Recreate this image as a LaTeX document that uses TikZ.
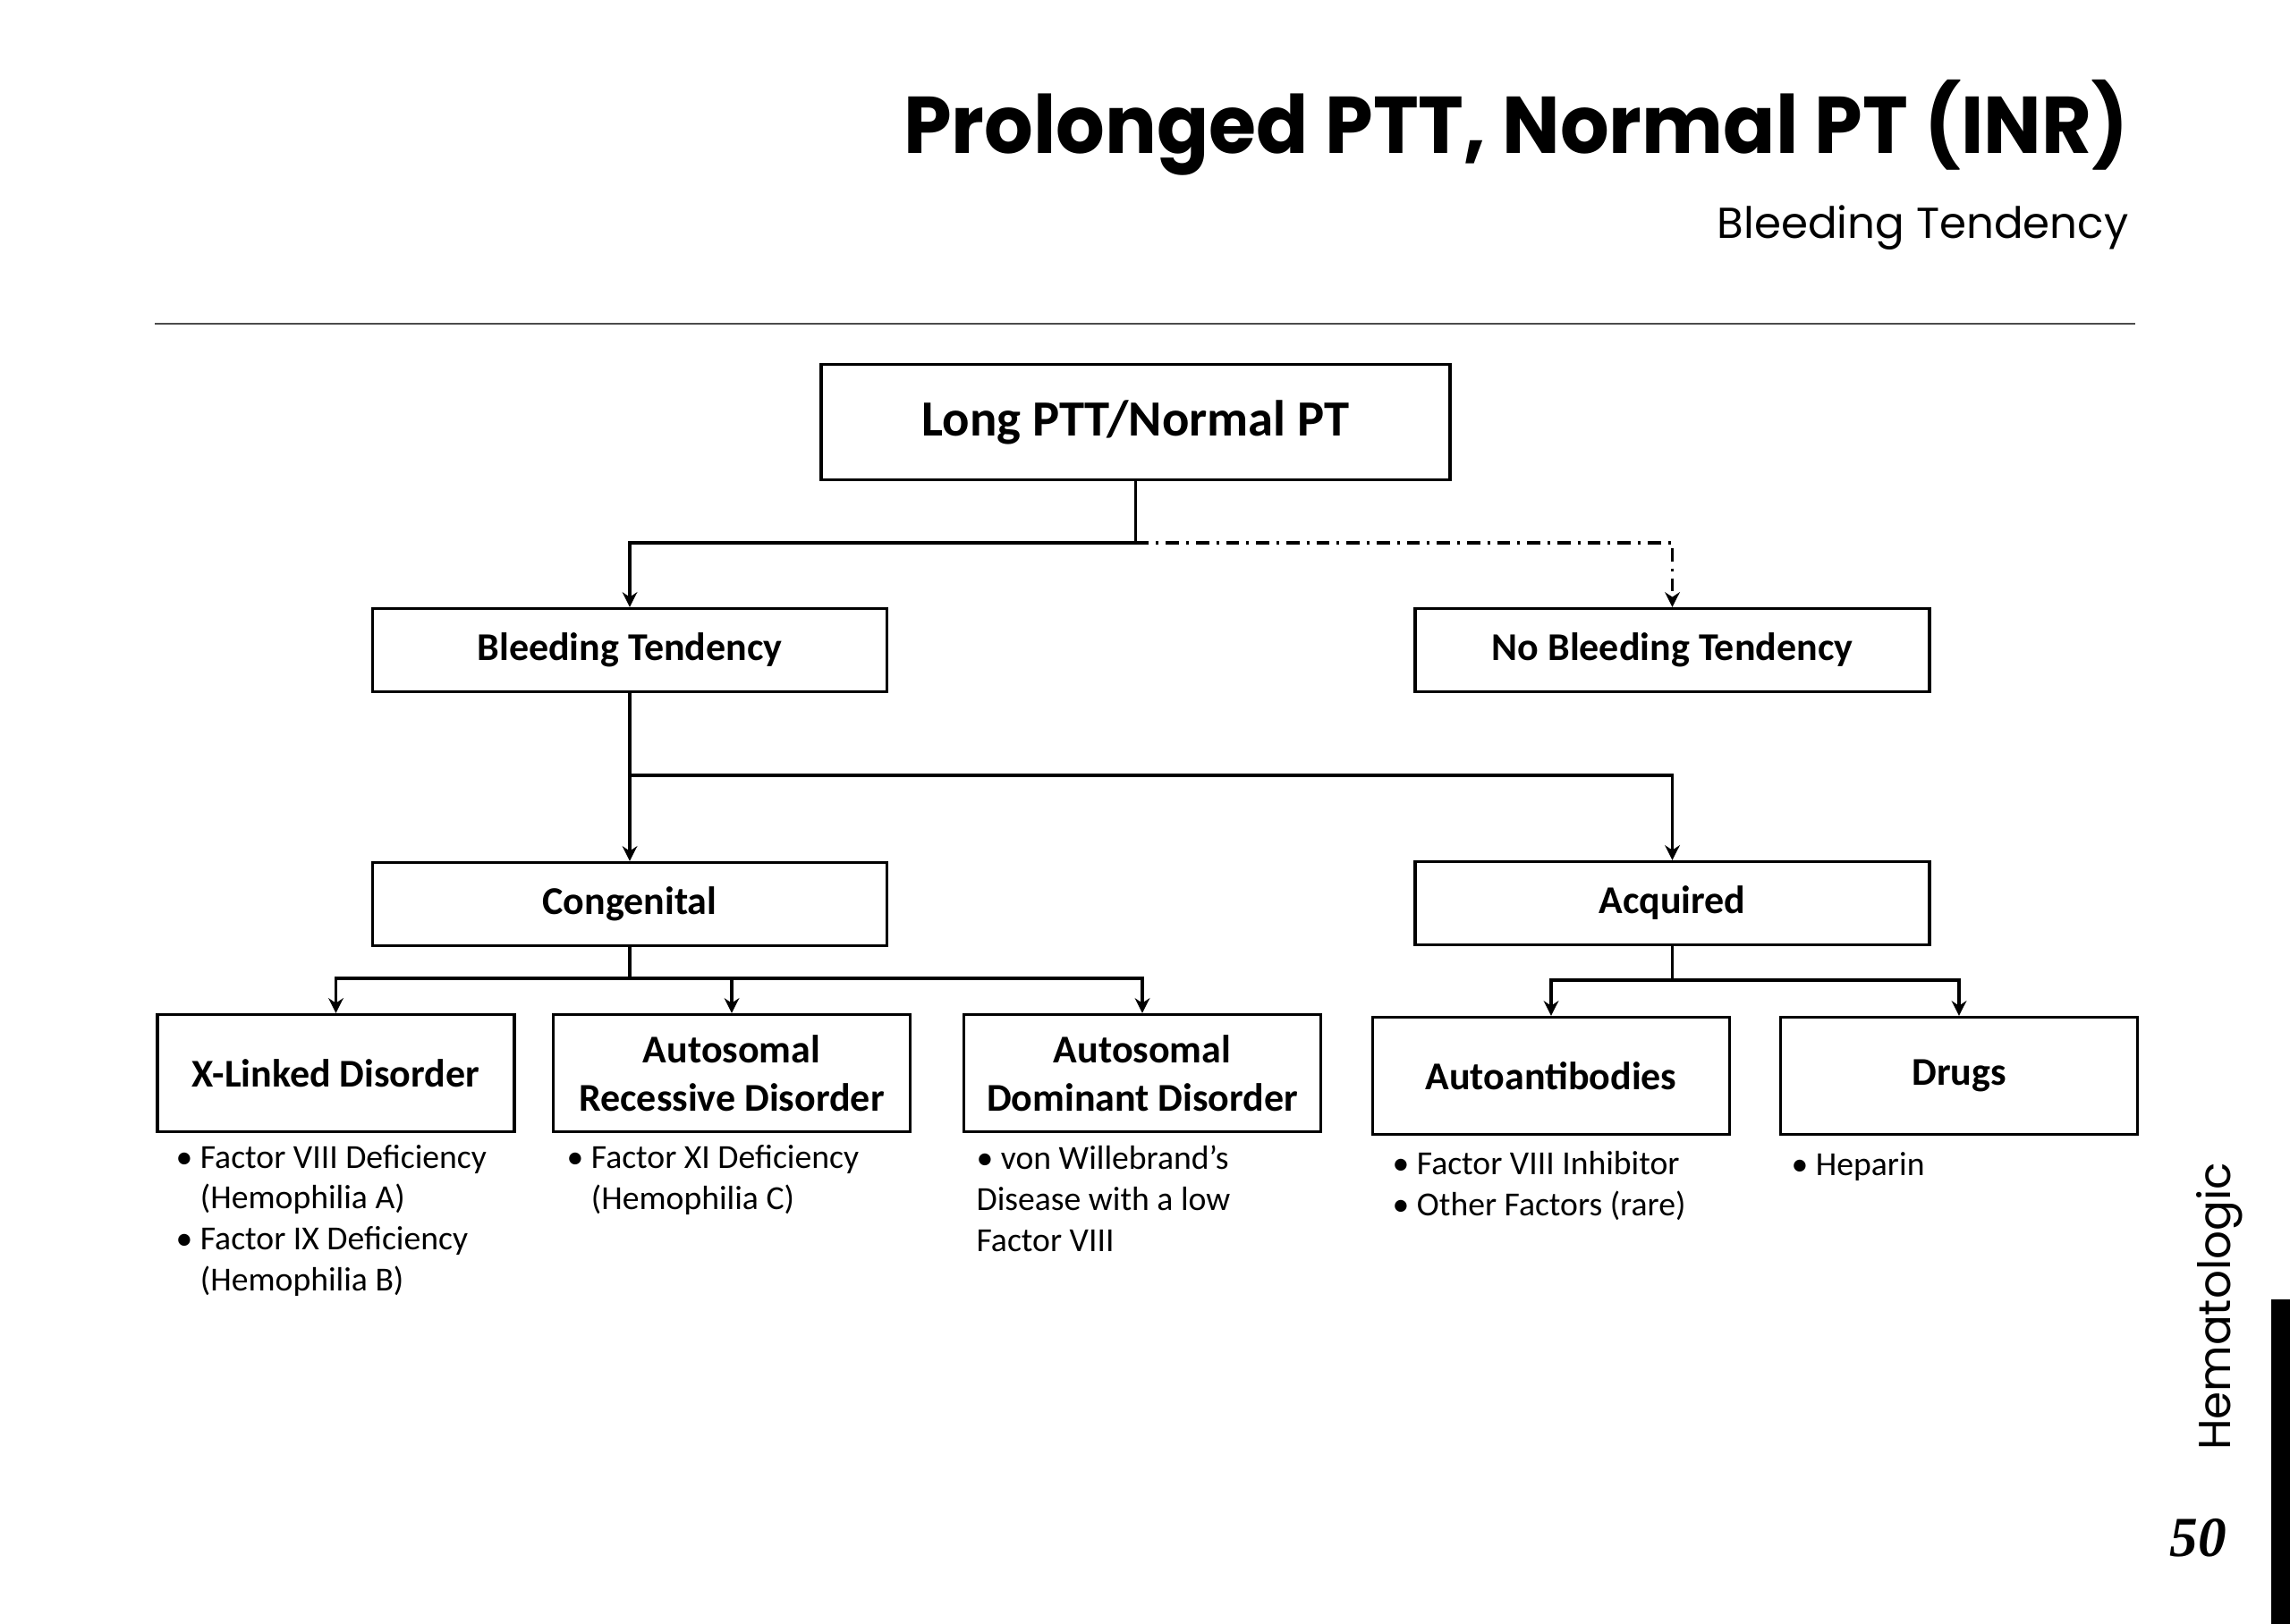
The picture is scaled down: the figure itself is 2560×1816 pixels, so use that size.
\documentclass[tikz,border=0pt]{standalone}
\usepackage{fontspec}
\setmainfont{Carlito}
\newfontfamily\popfont{Poppins}
\newfontfamily\numfont{Liberation Serif}
\usetikzlibrary{arrows.meta}
\begin{document}
\begin{tikzpicture}[x=0.3pt,y=-0.3pt,
  box/.style={draw, line width=1pt, inner sep=0pt, align=center,
    font=\bfseries\fontsize{13.2}{16.2}\selectfont},
  conn/.style={line width=1pt},
  arr/.style={conn, -{Stealth[length=5pt,width=5pt]}},
  ddash/.style={dash pattern=on 4.4pt off 2.4pt on 0.9pt off 2.4pt},
  bul/.style={anchor=base west, inner sep=0pt, align=left,
    font=\fontsize{11.3}{13.7}\selectfont},
]
\useasboundingbox (0,0) rectangle (2560,1816);

% header
\node[anchor=base east, inner sep=0pt, font=\popfont\bfseries\fontsize{27}{30}\selectfont] (title) at (2380,171) {\scalebox{0.955}[1]{Prolonged PTT, Normal PT (INR)}};
\node[anchor=base east, inner sep=0pt, font=\popfont\fontsize{14.5}{17}\selectfont] (subtitle) at (2380,266) {Bleeding Tendency};
\coordinate (ruleL) at (173,362);
\coordinate (ruleR) at (2387,362);
\draw[line width=0.5pt, black!70] (ruleL) -- (ruleR);

% boxes
\node[box, minimum width=210.9pt, minimum height=38.7pt, font=\bfseries\fontsize{17}{20}\selectfont] (long) at (1269.5,472) {Long PTT/Normal PT};
\node[box, minimum width=172.5pt, minimum height=27.9pt] (bleed) at (704,727) {Bleeding Tendency};
\node[box, minimum width=172.5pt, minimum height=27.9pt] (nobleed) at (1869.5,727) {No Bleeding Tendency};
\node[box, minimum width=172.5pt, minimum height=27.9pt] (cong) at (704,1011) {Congenital};
\node[box, minimum width=172.5pt, minimum height=27.9pt] (acq) at (1869.5,1010) {Acquired};
\node[box, minimum width=119.7pt, minimum height=39.3pt] (xl) at (375.5,1200) {X-Linked Disorder};
\node[box, minimum width=119.7pt, minimum height=39.3pt] (ar) at (818,1200) {Autosomal\\Recessive Disorder};
\node[box, minimum width=119.7pt, minimum height=39.3pt] (ad) at (1277,1200) {Autosomal\\Dominant Disorder};
\node[box, minimum width=119.7pt, minimum height=39.3pt] (auto) at (1734,1203) {Autoantibodies};
\node[box, minimum width=119.7pt, minimum height=39.3pt] (drugs) at (2190,1203) {Drugs};

% junctions
\coordinate (j1) at (1269.5,607);
\coordinate (j2) at (704,867);
\coordinate (j3) at (704,1094);
\coordinate (j4) at (1869.5,1096);

% connectors
\draw[arr] (long.south) -- (j1) -| (bleed.north);
\draw[arr, ddash] (j1) -| (nobleed.north);
\draw[arr] (bleed.south) -- (cong.north);
\draw[arr] (j2) -| (acq.north);
\draw[conn] (cong.south) -- (j3);
\draw[arr] (j3) -| (xl.north);
\draw[arr] (j3) -| (ar.north);
\draw[arr] (j3) -| (ad.north);
\draw[conn] (acq.south) -- (j4);
\draw[arr] (j4) -| (auto.north);
\draw[arr] (j4) -| (drugs.north);

% bullet texts (anchor = baseline of last line)
\node[bul] (xlb) at (196,1443) {• Factor VIII Deficiency\\\hphantom{• }(Hemophilia A)\\• Factor IX Deficiency\\\hphantom{• }(Hemophilia B)};
\node[bul] (arb) at (633,1352) {• Factor XI Deficiency\\\hphantom{• }(Hemophilia C)};
\node[bul] (adb) at (1091,1399) {• von Willebrand’s\\Disease with a low\\Factor VIII};
\node[bul] (autob) at (1556,1359) {• Factor VIII Inhibitor\\• Other Factors (rare)};
\node[bul] (drugsb) at (2002,1314) {• Heparin};

% side
\node[anchor=base, rotate=90, inner sep=0pt, font=\popfont\fontsize{15}{18}\selectfont] (side) at (2493,1461) {Hematologic};
\fill (2539,1453) rectangle (2560,1816);
\node[anchor=base, inner sep=0pt, font=\numfont\bfseries\itshape\fontsize{19}{22}\selectfont] (page) at (2457,1740) {50};
\end{tikzpicture}
\end{document}
